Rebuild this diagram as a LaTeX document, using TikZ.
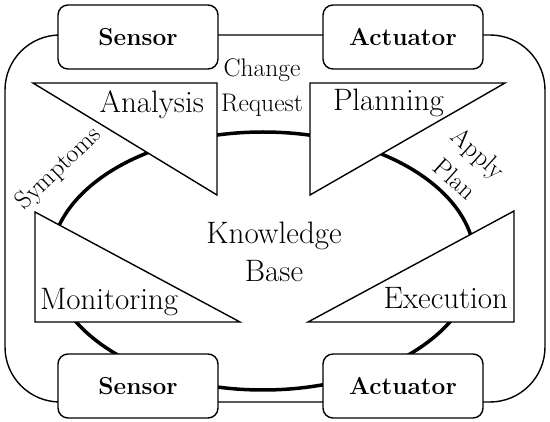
\documentclass[tikz,border=0pt]{standalone}
\usetikzlibrary{positioning}

\begin{document}
\begin{tikzpicture}[
    x=1pt,y=-1pt,outer sep=0pt,
    mybox/.style={draw,line width=1.4pt,rectangle,rounded corners=10pt,fill=white,
                  minimum width=160pt,minimum height=64pt,
                  font=\fontsize{24.5}{28}\selectfont\bfseries},
    phase/.style={draw,line width=1.4pt,fill=white},
    biglabel/.style={font=\fontsize{31}{38}\selectfont,inner sep=0pt},
    smalllabel/.style={font=\fontsize{25.5}{35}\selectfont,align=center,inner sep=0pt},
    ]
    \useasboundingbox (0,0) rectangle (550,422);

    % outer loop and knowledge base ring
    \draw [line width=1.4pt,rounded corners=55pt] (5,35) rectangle (545,402);
    \coordinate (kbc) at (263,261);
    \draw [line width=3.5pt] (kbc) ellipse [x radius=212,y radius=129];

    % the four phases
    \draw [phase] (33,83)  -- (217,83)  -- (217,195) -- cycle; % analysis
    \draw [phase] (310,83) -- (505,83)  -- (310,195) -- cycle; % planning
    \draw [phase] (35,212) -- (35,322)  -- (240,322) -- cycle; % monitoring
    \draw [phase] (514,211) -- (514,322) -- (308,322) -- cycle; % execution

    \node (ana)  [biglabel,anchor=base east] at (204,113) {Analysis};
    \node (plan) [biglabel,anchor=base west] at (333,111) {Planning};
    \node (mon)  [biglabel,anchor=base west] at (40,310)  {Monitoring};
    \node (exe)  [biglabel,anchor=base east] at (508,309) {Execution};
    \node (kb)   [biglabel,align=center]     at (274,252) {Knowledge\\Base};

    \node (chreq) [smalllabel]           at (262,88)  {Change\\Request};
    \node (symp)  [smalllabel,rotate=44]  at (59,169)  {Symptoms};
    \node (apply) [smalllabel,rotate=-42] at (467,166) {Apply\\Plan};

    % managed element interface
    \node (sensTop) [mybox] at (138,37)               {Sensor};
    \node (actTop)  [mybox,right=105pt of sensTop]    {Actuator};
    \node (sensBot) [mybox,below=285pt of sensTop]    {Sensor};
    \node (actBot)  [mybox,right=105pt of sensBot]    {Actuator};
\end{tikzpicture}
\end{document}
